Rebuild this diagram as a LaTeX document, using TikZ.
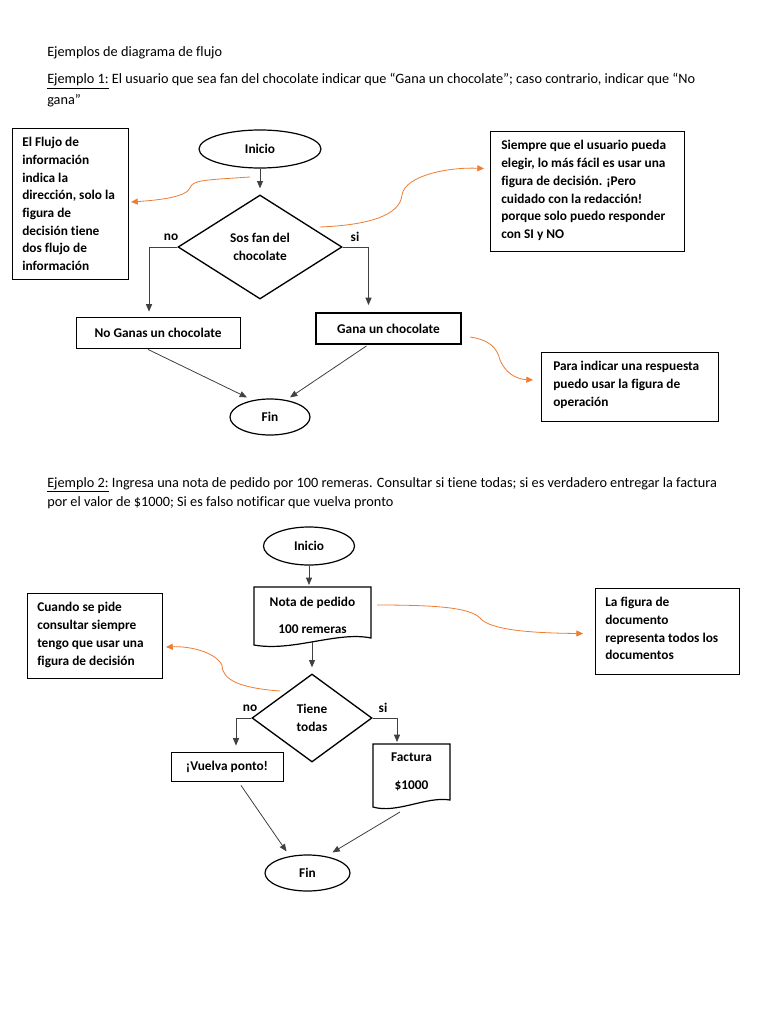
\documentclass[tikz,border=0pt]{standalone}
\usepackage{fontspec}
\setmainfont{Carlito}[Ligatures=NoCommon]
\usetikzlibrary{shapes.geometric,arrows.meta,calc}
\definecolor{orng}{RGB}{237,125,49}
\begin{document}
\begin{tikzpicture}[x=0.75pt,y=-0.75pt,
  every node/.style={inner sep=0pt},
  body/.style={font=\fontsize{10.7}{15}\selectfont, anchor=base west},
  bx/.style={font=\fontsize{10}{13.3}\selectfont\bfseries},
  term/.style={ellipse, draw, line width=0.9pt, bx},
  dec/.style={diamond, draw, line width=1pt, bx, align=center, font=\fontsize{10}{14}\selectfont\bfseries},
  proc/.style={rectangle, draw, line width=0.65pt, bx},
  notebox/.style={rectangle, draw, line width=0.8pt, anchor=north west},
  notetxt/.style={bx, align=left, anchor=west},
  doc/.style={bx, align=center},
  docline/.style={line width=0.9pt},
  flow/.style={draw=black!75, line width=0.6pt, -{Triangle[length=5.5pt,width=4.5pt]}},
  tip/.style={draw=orng, line width=0.6pt, -{Triangle[length=5pt,width=4.5pt]}},
]
\useasboundingbox[fill=white] (0,0) rectangle (768,1024);

% ---------- texts
\node[body] (t0) at (47,57) {Ejemplos de diagrama de flujo};
\node[body] (t1) at (47,84) {\underline{Ejemplo 1:} El usuario que sea fan del chocolate indicar que “Gana un chocolate”; caso contrario, indicar que “No};
\node[body] (t2) at (47,104) {gana”};
\node[body] (t3) at (47,487) {\underline{Ejemplo 2:} Ingresa una nota de pedido por 100 remeras. Consultar si tiene todas; si es verdadero entregar la factura};
\node[body] (t4) at (47,506) {por el valor de \$1000; Si es falso notificar que vuelva pronto};

% ---------- diagram 1
\node[term, minimum width=91.5pt, minimum height=28.5pt] (ini1) at (260,149) {Inicio};
\node[dec, minimum width=123pt, minimum height=78pt, aspect=1.58] (d1) at (260,247) {Sos fan del\\chocolate};
\node[proc, minimum width=123pt, minimum height=23.25pt] (nob) at (158,332.5) {No Ganas un chocolate};
\node[proc, line width=1.4pt, minimum width=108.75pt, minimum height=23.25pt] (gana) at (388.5,328.5) {Gana un chocolate};
\node[term, minimum width=60pt, minimum height=27pt] (fin1) at (270,417) {Fin};
\node[bx] (no1) at (171,237) {no};
\node[bx] (si1) at (355,237) {si};

\draw[flow] (ini1.south) -- ($(d1.north)+(0,-6)$);
\draw[flow] (d1.west) -| ($(nob.north)+(-9,-5)$);
\draw[flow] (d1.east) -| ($(gana.north)+(-20,-7)$);
\draw[flow] ($(nob.south)+(-10,1)$) -- ($(fin1.north)+(-23,-1)$);
\draw[flow] ($(gana.south)+(-22,1)$) -- ($(fin1.north)+(20,-1)$);

\node[notebox, minimum width=87pt, minimum height=113.25pt] (n1) at (12,128) {};
\node[notetxt] (n1t) at ($(n1.west)+(10,0)$) {El Flujo de\\información\\indica la\\dirección, solo la\\figura de\\decisión tiene\\dos flujo de\\información};
\node[notebox, minimum width=145.5pt, minimum height=90pt] (n2) at (490,131) {};
\node[notetxt] (n2t) at ($(n2.west)+(11,-1)$) {Siempre que el usuario pueda\\elegir, lo más fácil es usar una\\figura de decisión. ¡Pero\\cuidado con la redacción!\\porque solo puedo responder\\con SI y NO};
\node[notebox, minimum width=132.75pt, minimum height=51.75pt] (n3) at (541,352) {};
\node[notetxt] (n3t) at ($(n3.west)+(12,-2)$) {Para indicar una respuesta\\puedo usar la figura de\\operación};

\coordinate (c1) at (250,177);
\coordinate (c2) at (320,227);
\coordinate (c3) at (470,337);
\draw[tip] (c1) .. controls (205,180) and (192,180) .. (190,188) .. controls (186,197) and (160,200) .. ($(n1.east)+(2,-2)$);
\draw[tip] (c2) .. controls (370,225) and (400,215) .. (402,195) .. controls (405,175) and (450,167) .. ($(n2.west)+(-6,-23)$);
\draw[tip] (c3) .. controls (490,340) and (497,348) .. (500,360) .. controls (505,372) and (515,379) .. ($(n3.west)+(-8,-7)$);

% ---------- diagram 2
\node[term, minimum width=68.25pt, minimum height=28.5pt] (ini2) at (309,546) {Inicio};
\node[doc, font=\fontsize{10}{20.25}\selectfont\bfseries] (nota) at (312.5,615) {Nota de pedido\\100 remeras};
\draw[docline] ($(nota.center)+(-58.5,-28)$) -- ($(nota.center)+(58.5,-28)$) -- ($(nota.center)+(58.5,23)$)
  .. controls ($(nota.center)+(25,16)$) and ($(nota.center)+(-20,37)$) .. ($(nota.center)+(-58.5,30)$) -- cycle;
\node[dec, minimum width=90pt, minimum height=66pt, aspect=1.36] (d2) at (312,718) {Tiene\\todas};
\node[proc, minimum width=84pt, minimum height=21.75pt] (vuelva) at (227,766.5) {¡Vuelva ponto!};
\node[doc, font=\fontsize{10}{21}\selectfont\bfseries] (factura) at (411.5,772) {Factura\\\$1000};
\draw[docline] ($(factura.center)+(-38.5,-28)$) -- ($(factura.center)+(38.5,-28)$) -- ($(factura.center)+(38.5,28)$)
  .. controls ($(factura.center)+(15,24)$) and ($(factura.center)+(-15,42)$) .. ($(factura.center)+(-38.5,35)$) -- cycle;
\node[term, minimum width=63.75pt, minimum height=27pt] (fin2) at (307.5,873) {Fin};
\node[bx] (no2) at (250,708) {no};
\node[bx] (si2) at (383,708) {si};

\draw[flow] (ini2.south) -- ($(nota.center)+(-3.5,-30)$);
\draw[flow] ($(nota.center)+(-0.5,27)$) -- ($(d2.north)+(0,-6)$);
\draw[flow] (d2.west) -| ($(vuelva.north)+(9,-6)$);
\draw[flow] (d2.east) -| ($(factura.center)+(-14.5,-30)$);
\draw[flow] ($(vuelva.south)+(14,4)$) -- ($(fin2.north)+(-21,-3)$);
\draw[flow] ($(factura.center)+(-11.5,40)$) -- ($(fin2.north)+(25,-2)$);

\node[notebox, minimum width=101.25pt, minimum height=63.75pt] (n4) at (27,593) {};
\node[notetxt] (n4t) at ($(n4.west)+(10,-1)$) {Cuando se pide\\consultar siempre\\tengo que usar una\\figura de decisión};
\node[notebox, minimum width=108pt, minimum height=64.5pt] (n5) at (595,588) {};
\node[notetxt] (n5t) at ($(n5.west)+(10,-3)$) {La figura de\\documento\\representa todos los\\documentos};

\coordinate (c4) at (377,605);
\coordinate (c5) at (280,691);
\draw[tip] (c4) .. controls (440,605) and (470,608) .. (480,618) .. controls (490,630) and (530,633) .. ($(n5.west)+(-12,2)$);
\draw[tip] (c5) .. controls (240,688) and (222,680) .. (222,665) .. controls (215,652) and (190,646) .. ($(n4.east)+(3,11)$);
\end{tikzpicture}
\end{document}
